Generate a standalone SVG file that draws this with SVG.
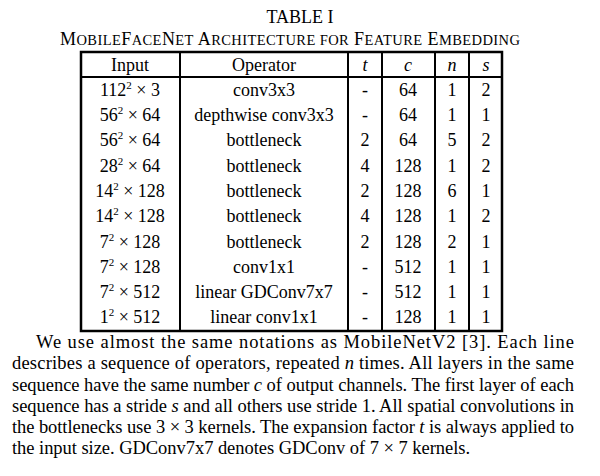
<svg xmlns="http://www.w3.org/2000/svg" width="600" height="476" viewBox="0 0 600 476">
<style>
text{font-family:"Liberation Serif","Times New Roman",serif;fill:#000;font-size:18px}
.c{text-anchor:middle}
.i{font-style:italic}
.p{font-size:18.5px}
line{stroke:#000;stroke-width:2}
</style>
<rect width="600" height="476" fill="#fff"/>
<g id="title">
<text class="c" x="300" y="23" font-size="18">TABLE I</text>
<text class="c" x="290" y="45" font-size="18" textLength="460" lengthAdjust="spacing">M<tspan font-size="14.5">OBILE</tspan>F<tspan font-size="14.5">ACE</tspan>N<tspan font-size="14.5">ET</tspan> A<tspan font-size="14.5">RCHITECTURE FOR</tspan> F<tspan font-size="14.5">EATURE</tspan> E<tspan font-size="14.5">MBEDDING</tspan></text>
</g>
<g id="grid">
<rect x="81" y="52" width="421" height="279" fill="none" stroke="#000" stroke-width="2.5"/>
<line x1="81" y1="77" x2="502" y2="77"/>
<line x1="180" y1="52" x2="180" y2="331"/>
<line x1="348" y1="52" x2="348" y2="331"/>
<line x1="382" y1="52" x2="382" y2="331"/>
<line x1="435" y1="52" x2="435" y2="331"/>
<line x1="469" y1="52" x2="469" y2="331"/>
</g>
<g id="header">
<text class="c" x="130" y="71">Input</text>
<text class="c" x="264" y="71">Operator</text>
<text class="c i" x="365" y="71">t</text>
<text class="c i" x="408" y="71">c</text>
<text class="c i" x="452" y="71">n</text>
<text class="c i" x="486" y="71">s</text>
</g>
<g id="rows">
<g transform="translate(0,96)"><text class="c" x="130">112<tspan dy="-7" font-size="11">2</tspan><tspan dy="7"> × 3</tspan></text><text class="c" x="264">conv3x3</text><text class="c" x="365">-</text><text class="c" x="408">64</text><text class="c" x="452">1</text><text class="c" x="486">2</text></g>
<g transform="translate(0,121)"><text class="c" x="130">56<tspan dy="-7" font-size="11">2</tspan><tspan dy="7"> × 64</tspan></text><text class="c" x="264">depthwise conv3x3</text><text class="c" x="365">-</text><text class="c" x="408">64</text><text class="c" x="452">1</text><text class="c" x="486">1</text></g>
<g transform="translate(0,146)"><text class="c" x="130">56<tspan dy="-7" font-size="11">2</tspan><tspan dy="7"> × 64</tspan></text><text class="c" x="264">bottleneck</text><text class="c" x="365">2</text><text class="c" x="408">64</text><text class="c" x="452">5</text><text class="c" x="486">2</text></g>
<g transform="translate(0,172)"><text class="c" x="130">28<tspan dy="-7" font-size="11">2</tspan><tspan dy="7"> × 64</tspan></text><text class="c" x="264">bottleneck</text><text class="c" x="365">4</text><text class="c" x="408">128</text><text class="c" x="452">1</text><text class="c" x="486">2</text></g>
<g transform="translate(0,197)"><text class="c" x="130">14<tspan dy="-7" font-size="11">2</tspan><tspan dy="7"> × 128</tspan></text><text class="c" x="264">bottleneck</text><text class="c" x="365">2</text><text class="c" x="408">128</text><text class="c" x="452">6</text><text class="c" x="486">1</text></g>
<g transform="translate(0,222)"><text class="c" x="130">14<tspan dy="-7" font-size="11">2</tspan><tspan dy="7"> × 128</tspan></text><text class="c" x="264">bottleneck</text><text class="c" x="365">4</text><text class="c" x="408">128</text><text class="c" x="452">1</text><text class="c" x="486">2</text></g>
<g transform="translate(0,248)"><text class="c" x="130">7<tspan dy="-7" font-size="11">2</tspan><tspan dy="7"> × 128</tspan></text><text class="c" x="264">bottleneck</text><text class="c" x="365">2</text><text class="c" x="408">128</text><text class="c" x="452">2</text><text class="c" x="486">1</text></g>
<g transform="translate(0,273)"><text class="c" x="130">7<tspan dy="-7" font-size="11">2</tspan><tspan dy="7"> × 128</tspan></text><text class="c" x="264">conv1x1</text><text class="c" x="365">-</text><text class="c" x="408">512</text><text class="c" x="452">1</text><text class="c" x="486">1</text></g>
<g transform="translate(0,298)"><text class="c" x="130">7<tspan dy="-7" font-size="11">2</tspan><tspan dy="7"> × 512</tspan></text><text class="c" x="264">linear GDConv7x7</text><text class="c" x="365">-</text><text class="c" x="408">512</text><text class="c" x="452">1</text><text class="c" x="486">1</text></g>
<g transform="translate(0,323)"><text class="c" x="130">1<tspan dy="-7" font-size="11">2</tspan><tspan dy="7"> × 512</tspan></text><text class="c" x="264">linear conv1x1</text><text class="c" x="365">-</text><text class="c" x="408">128</text><text class="c" x="452">1</text><text class="c" x="486">1</text></g>
</g>
<g id="paragraph">
<text class="p" x="36" y="348" textLength="538" lengthAdjust="spacing">We use almost the same notations as MobileNetV2 [3]. Each line</text>
<text class="p" x="12" y="369" textLength="562" lengthAdjust="spacing">describes a sequence of operators, repeated <tspan class="i">n</tspan> times. All layers in the same</text>
<text class="p" x="12" y="391" textLength="562" lengthAdjust="spacing">sequence have the same number <tspan class="i">c</tspan> of output channels. The first layer of each</text>
<text class="p" x="12" y="412" textLength="562" lengthAdjust="spacing">sequence has a stride <tspan class="i">s</tspan> and all others use stride 1. All spatial convolutions in</text>
<text class="p" x="12" y="433" textLength="562" lengthAdjust="spacing">the bottlenecks use 3 × 3 kernels. The expansion factor <tspan class="i">t</tspan> is always applied to</text>
<text class="p" x="12" y="454" textLength="458" lengthAdjust="spacing">the input size. GDConv7x7 denotes GDConv of 7 × 7 kernels.</text>
</g>
</svg>
